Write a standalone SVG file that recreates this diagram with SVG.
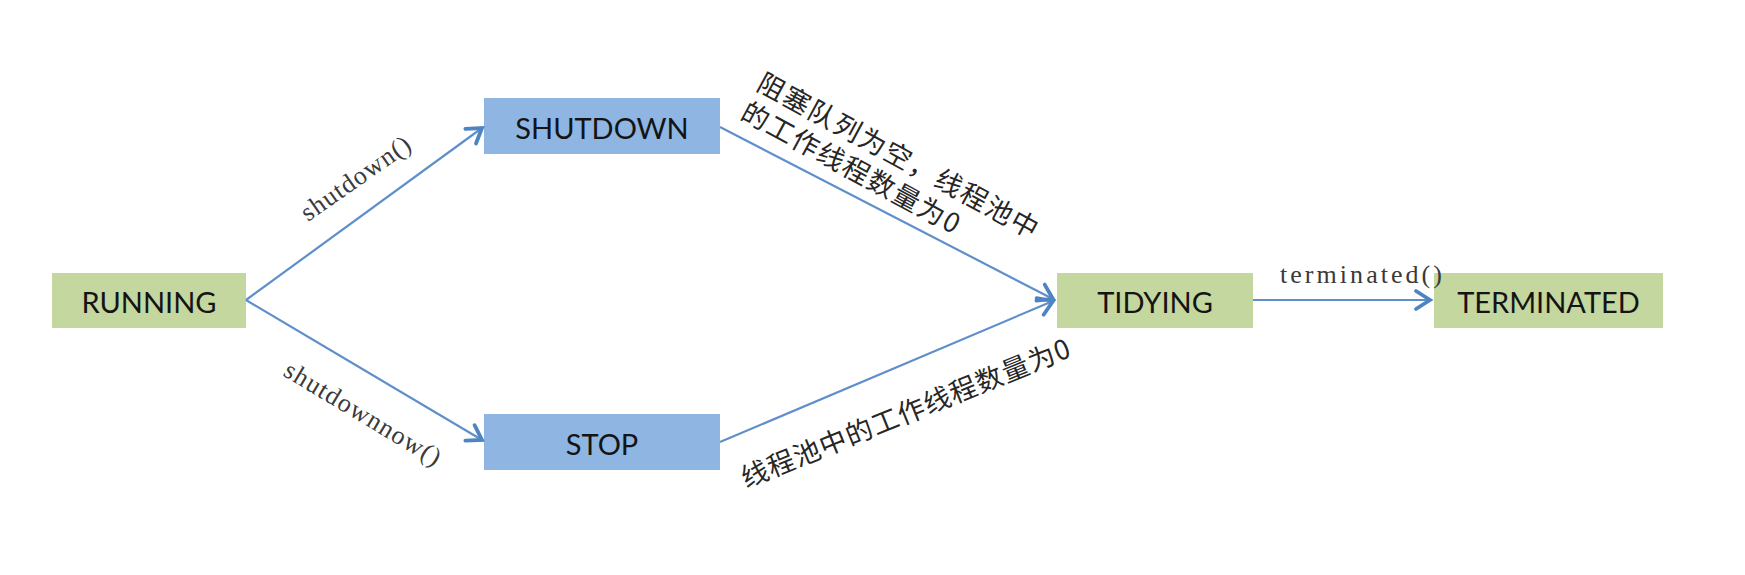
<svg xmlns="http://www.w3.org/2000/svg" width="1745" height="575" viewBox="0 0 1745 575">
  <style>
    .green { fill: #c4d79f; }
    .blue { fill: #8fb5e3; }
    .nlabel { font-family: Lato, "Open Sans", "Liberation Sans", sans-serif; font-size: 29px; fill: #141414; text-anchor: middle; dominant-baseline: central; }
    .edge { stroke: #5f8fca; stroke-width: 2.2; fill: none; }
    .elabel { font-family: "Liberation Serif", "Noto Sans CJK SC", serif; font-size: 26px; fill: #3a3a3a; }
    .clabel { font-family: "Noto Sans CJK SC", sans-serif; font-weight: 400; font-size: 27px; fill: #262626; }
  </style>
  <defs>
    <marker id="arrow" markerUnits="userSpaceOnUse" markerWidth="26" markerHeight="26" viewBox="-20 -13 26 26" refX="0" refY="0" orient="auto">
      <path d="M-14,-9 L0,0 L-14,9" fill="none" stroke="#4f84c2" stroke-width="3.8" stroke-linejoin="miter" stroke-linecap="round"/>
    </marker>
  </defs>
  <rect width="1745" height="575" fill="#ffffff"/>

  <g id="node-running">
    <rect class="green" x="52" y="273" width="194" height="55"/>
    <text class="nlabel" x="149" y="301">RUNNING</text>
  </g>
  <g id="node-shutdown">
    <rect class="blue" x="484" y="98" width="236" height="56"/>
    <text class="nlabel" x="602" y="127">SHUTDOWN</text>
  </g>
  <g id="node-stop">
    <rect class="blue" x="484" y="414" width="236" height="56"/>
    <text class="nlabel" x="602" y="443">STOP</text>
  </g>
  <g id="node-tidying">
    <rect class="green" x="1057" y="273" width="196" height="55"/>
    <text class="nlabel" x="1155" y="301">TIDYING</text>
  </g>
  <g id="node-terminated">
    <rect class="green" x="1434" y="273" width="229" height="55"/>
    <text class="nlabel" x="1548.5" y="301">TERMINATED</text>
  </g>

  <g id="connectors">
    <line class="edge" x1="246" y1="300" x2="482" y2="128" marker-end="url(#arrow)"/>
    <line class="edge" x1="246" y1="300" x2="482" y2="440" marker-end="url(#arrow)"/>
    <line class="edge" x1="720" y1="127" x2="1053" y2="299" marker-end="url(#arrow)"/>
    <line class="edge" x1="720" y1="442" x2="1053" y2="301" marker-end="url(#arrow)"/>
    <line class="edge" x1="1253" y1="300" x2="1430" y2="300" marker-end="url(#arrow)"/>
    <text class="elabel" transform="translate(308,222) rotate(-35)" textLength="128" lengthAdjust="spacing">shutdown()</text>
    <text class="elabel" transform="translate(282,375) rotate(31)" textLength="178" lengthAdjust="spacing">shutdownnow()</text>
    <text class="elabel" x="1280" y="283" textLength="162" lengthAdjust="spacing">terminated()</text>
    <text class="clabel" transform="translate(755,89) rotate(28.5)" textLength="315" lengthAdjust="spacing">阻塞队列为空，线程池中</text>
    <text class="clabel" transform="translate(739,118) rotate(28.5)" textLength="244" lengthAdjust="spacing">的工作线程数量为0</text>
    <text class="clabel" transform="translate(746,488) rotate(-22)" textLength="352" lengthAdjust="spacing">线程池中的工作线程数量为0</text>
  </g>
</svg>
